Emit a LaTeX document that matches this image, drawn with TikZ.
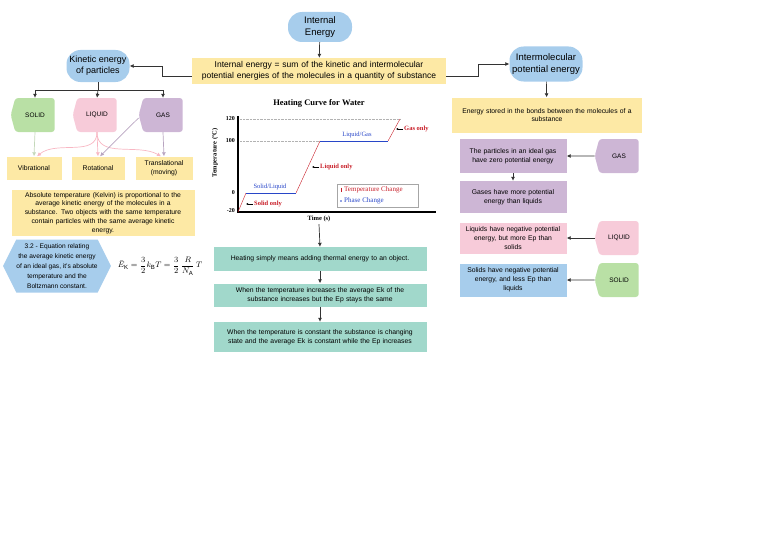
\documentclass[tikz,border=0pt]{standalone}
\usepackage{amsmath}
\usepackage{fontspec}
\setmainfont{Liberation Sans}
\newfontfamily\chartfont{Liberation Serif}
\usetikzlibrary{arrows.meta, shapes.symbols}

\definecolor{pillblue}{RGB}{167,205,236}
\definecolor{noteyellow}{RGB}{253,233,165}
\definecolor{solidgreen}{RGB}{185,224,165}
\definecolor{liquidpink}{RGB}{247,203,217}
\definecolor{gaspurple}{RGB}{205,182,213}
\definecolor{stepteal}{RGB}{161,216,203}
\definecolor{curvered}{RGB}{200,30,40}
\definecolor{curveblue}{RGB}{40,70,200}

\begin{document}
\begin{tikzpicture}[x=1pt, y=-1pt,
  pill/.style={fill=pillblue, rounded corners=14pt, align=center, inner sep=0pt, font=\fontsize{9.5}{11.5}\selectfont},
  note/.style={fill=#1, align=center, inner sep=0pt, font=\fontsize{6.8}{8.8}\selectfont},
  note/.default=noteyellow,
  state/.style={signal, signal to=west, signal from=nowhere, signal pointer angle=150, fill=#1, rounded corners=3pt, minimum width=44pt, minimum height=34pt, inner sep=0pt, font=\fontsize{6.5}{8}\selectfont},
  arr/.style={draw=black!80, line width=0.7pt, -{Latex[length=4pt, width=4pt]}},
  tie/.style={draw=#1, line width=0.7pt, -{Latex[length=4pt, width=4pt]}},
  chart/.style={font=\chartfont\fontsize{6.5}{8}\selectfont, inner sep=0pt},
]
\useasboundingbox (0,0) rectangle (768,543);

% top
\node[pill, minimum width=64pt, minimum height=30pt] (ienergy) at (320,27) {Internal\\Energy};
\node[note, text width=254pt, minimum height=26pt, font=\fontsize{8.5}{10.5}\selectfont] (idef) at (319,71) {Internal energy = sum of the kinetic and intermolecular\\potential energies of the molecules in a quantity of substance};
\draw[arr] (ienergy) -- (idef);

% kinetic side
\node[pill, minimum width=63pt, minimum height=32pt, font=\fontsize{9}{11}\selectfont] (kinetic) at (98,66) {Kinetic energy\\of particles};
\draw[arr] ([yshift=-5pt]idef.west) -- ++(-29,0) |- (kinetic.east);

\node[state=solidgreen] (ksolid) at (35,115) {SOLID};
\node[state=liquidpink] (kliquid) at (97,115) {LIQUID};
\node[state=gaspurple] (kgas) at (163,115) {GAS};
\draw[draw=black!80, line width=0.7pt] (kinetic.south) -- ++(0,8) coordinate (kfork);
\draw[arr] (kfork) -| (ksolid.north);
\draw[arr] (kfork) -| (kgas.north);
\draw[arr] (kfork) -- (kliquid.north);

\node[note, text width=55pt, minimum height=23pt] (vib) at (34,168) {Vibrational};
\node[note, text width=53pt, minimum height=23pt] (rot) at (98,168) {Rotational};
\node[note, text width=57pt, minimum height=23pt] (trans) at (164,168) {Translational\\(moving)};

\draw[tie=solidgreen!85!black!60] (ksolid.south) -- (vib.north);
\draw[tie=liquidpink!90!red] (kliquid.south) to[out=-90, in=40] ([xshift=3pt]vib.north);
\draw[tie=liquidpink!90!red] (kliquid.south) -- (rot.north);
\draw[tie=liquidpink!90!red] (kliquid.south) to[out=-90, in=150] ([xshift=-3pt]trans.north);
\draw[tie=gaspurple!90!black] ([yshift=-3pt]kgas.west) -- ([xshift=2pt]rot.north);
\draw[tie=gaspurple!90!black] (kgas.south) -- (trans.north);

\node[note, text width=183pt, minimum height=46pt] (abstemp) at (103,213) {Absolute temperature (Kelvin) is proportional to the\\average kinetic energy of the molecules in a\\substance. Two objects with the same temperature\\contain particles with the same average kinetic\\energy.};

\node[signal, signal to=west and east, signal pointer angle=127, fill=pillblue, minimum width=104pt, minimum height=53pt, inner sep=0pt, align=center, font=\fontsize{6.6}{10}\selectfont] (eqnote) at (57,266) {3.2 - Equation relating\\the average kinetic energy\\of an ideal gas, it's absolute\\temperature and the\\Boltzmann constant.};
\node[inner sep=0pt, font=\footnotesize] (eqn) at (160,266) {$\displaystyle \bar{E}_{\mathrm{K}} = \frac{3}{2}k_{\mathrm{B}}T = \frac{3}{2}\,\frac{R}{N_{\mathrm{A}}}\,T$};

% heating curve
\node[chart, font=\chartfont\bfseries\fontsize{8.5}{10}\selectfont] (ctitle) at (319,103) {Heating Curve for Water};
\draw[densely dotted, gray!60] (240,119) -- (400,119);
\draw[densely dotted, gray!60] (240,141) -- (320,141);
\draw[line width=1.2pt] (238,116) -- (238,212) -- (436,212);
\node[chart, font=\chartfont\bfseries\fontsize{6}{8}\selectfont, anchor=east] at (235,119) {120};
\node[chart, font=\chartfont\bfseries\fontsize{6}{8}\selectfont, anchor=east] at (235,141) {100};
\node[chart, font=\chartfont\bfseries\fontsize{6}{8}\selectfont, anchor=east] at (235,193) {0};
\node[chart, font=\chartfont\bfseries\fontsize{6}{8}\selectfont, anchor=east] at (235,211) {-20};
\node[chart, font=\chartfont\bfseries\fontsize{6.5}{8}\selectfont, rotate=90] at (215,153) {Temperature (°C)};
\node[chart, font=\chartfont\bfseries\fontsize{6.5}{8}\selectfont] (timelbl) at (319,219) {Time (s)};

\draw[curvered] (238,212) -- (246,193);
\draw[curveblue] (246,193) -- (296,193);
\draw[curvered] (296,193) -- (320,141);
\draw[curveblue] (320,141) -- (388,141);
\draw[curvered] (388,141) -- (400,119);

\node[chart, text=curveblue] at (270,187) {Solid/Liquid};
\node[chart, text=curveblue] at (357,135) {Liquid/Gas};
\node[chart, text=curvered, font=\chartfont\bfseries\fontsize{6.5}{8}\selectfont, anchor=west] (solidonly) at (254,204) {Solid only};
\node[chart, text=curvered, font=\chartfont\bfseries\fontsize{6.5}{8}\selectfont, anchor=west] (liquidonly) at (320,167) {Liquid only};
\node[chart, text=curvered, font=\chartfont\bfseries\fontsize{6.5}{8}\selectfont, anchor=west] (gasonly) at (404,129) {Gas only};
\draw[-{Latex[length=2pt, width=2pt]}] ([xshift=-1pt]solidonly.west) -- ++(-7,0);
\draw[-{Latex[length=2pt, width=2pt]}] ([xshift=-1pt]liquidonly.west) -- ++(-7,0);
\draw[-{Latex[length=2pt, width=2pt]}] ([xshift=-1pt]gasonly.west) -- ++(-7,0);

\draw[gray!70] (337,184) rectangle (418,207);
\draw[curvered] (341,187.5) -- (341,191.5);
\fill[curveblue] (341,201) circle (0.8pt);
\node[chart, text=curvered, font=\chartfont\fontsize{7}{8}\selectfont, anchor=west] at (344,190) {Temperature Change};
\node[chart, text=curveblue, font=\chartfont\fontsize{7}{8}\selectfont, anchor=west] at (344,201) {Phase Change};

% heating notes
\node[note=stepteal, text width=213pt, minimum height=24pt] (heat1) at (320,259) {Heating simply means adding thermal energy to an object.};
\node[note=stepteal, text width=213pt, minimum height=23pt] (heat2) at (320,295) {When the temperature increases the average Ek of the\\substance increases but the Ep stays the same};
\node[note=stepteal, text width=213pt, minimum height=30pt] (heat3) at (320,337) {When the temperature is constant the substance is changing\\state and the average Ek is constant while the Ep increases};
\draw[arr] ([yshift=-2pt]timelbl.south) -- (heat1.north);
\draw[arr] (heat1) -- (heat2);
\draw[arr] (heat2) -- (heat3);

% potential side
\node[pill, minimum width=73pt, minimum height=35pt] (potential) at (546,64) {Intermolecular\\potential energy};
\draw[arr] ([yshift=-5pt]idef.east) -- ++(32,0) |- (potential.west);
\node[note, text width=190pt, minimum height=35pt] (bonds) at (547,115) {Energy stored in the bonds between the molecules of a\\substance};
\draw[arr] (potential) -- (bonds);

\node[note=gaspurple, text width=107pt, minimum height=34pt] (pgas) at (513,156) {The particles in an ideal gas\\have zero potential energy};
\node[note=gaspurple, text width=107pt, minimum height=32pt] (pgasmore) at (513,197) {Gases have more potential\\energy than liquids};
\node[note=liquidpink, text width=107pt, minimum height=31pt] (pliquid) at (513,238) {Liquids have negative potential\\energy, but more Ep than\\solids};
\node[note=pillblue, text width=107pt, minimum height=33pt] (psolid) at (513,280) {Solids have negative potential\\energy, and less Ep than\\liquids};
\draw[arr] (pgas) -- (pgasmore);

\node[state=gaspurple] (rgas) at (619,156) {GAS};
\node[state=liquidpink] (rliquid) at (619,238) {LIQUID};
\node[state=solidgreen] (rsolid) at (619,280) {SOLID};
\draw[arr] (rgas) -- (pgas);
\draw[arr] (rliquid) -- (pliquid);
\draw[arr] (rsolid) -- (psolid);
\end{tikzpicture}
\end{document}
